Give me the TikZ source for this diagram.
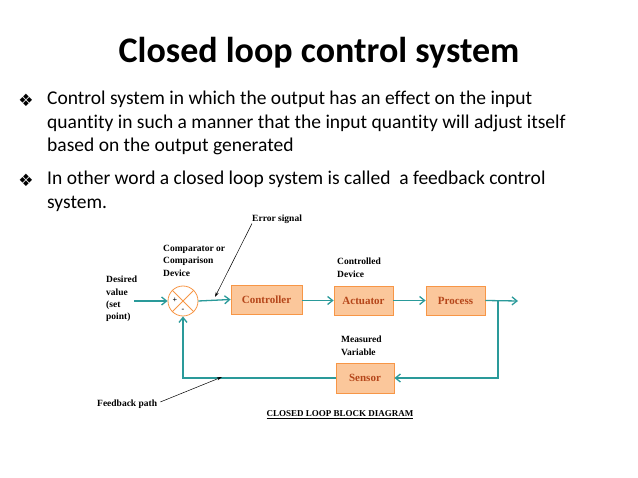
\documentclass[tikz,border=0pt]{standalone}
\usepackage{fontspec}
\setmainfont{Carlito}[Ligatures=NoCommon]
\newfontfamily\dv{DejaVu Sans}
\newfontfamily\tms{Liberation Serif}
\usetikzlibrary{arrows.meta}
\definecolor{teal1}{HTML}{2A9A9A}
\definecolor{borange}{HTML}{F79646}
\definecolor{forange}{HTML}{FBC79B}
\definecolor{torange}{HTML}{B5461A}
\begin{document}
\begin{tikzpicture}[x=1pt,y=-1pt,
 blk/.style={draw=borange,fill=forange,line width=0.8pt,inner sep=0pt,font=\tms\bfseries\fontsize{11}{11}\selectfont,text=torange},
 conn/.style={teal1,line width=1.3pt,-{Straight Barb[length=5pt,width=8pt]}},
 lbl/.style={font=\tms\bfseries\fontsize{9.5}{12.3}\selectfont,align=left,inner sep=0pt},
 ann/.style={black,line width=0.5pt,-{Stealth[length=5pt,width=3pt]}},
 bul/.style={anchor=north west,align=left,inner sep=0pt,font=\fontsize{19.5}{23.5}\selectfont}]
\useasboundingbox (0,0) rectangle (638,478);
\node[font=\bfseries\fontsize{36}{38}\selectfont] (title) at (319,53) {Closed loop control system};
\node[font=\dv\fontsize{17}{17}\selectfont] (bu1) at (26,100) {❖};
\node[font=\dv\fontsize{17}{17}\selectfont] (bu2) at (26,180) {❖};
\node[bul] (b1) at (47,91)
 {Control system in which the output has an effect on the input\\
 quantity in such a manner that the input quantity will adjust itself\\
 based on the output generated};
\node[bul] (b2) at (47,171)
 {In other word a closed loop system is called\ \ a feedback control\\
 system.};
% blocks
\node[draw=borange,line width=0.8pt,circle,minimum size=30pt,inner sep=0pt] (sum) at (183,301) {};
\draw[borange,line width=0.8pt] (sum.north west) -- (sum.south east) (sum.north east) -- (sum.south west);
\node[font=\tms\bfseries\fontsize{8}{8}\selectfont] (plus) at (175,300) {+};
\node[font=\tms\bfseries\fontsize{8}{8}\selectfont] (minus) at (183,310) {-};
\node[blk,minimum width=71pt,minimum height=29pt] (ctrl) at (266.5,299.5) {Controller};
\node[blk,minimum width=59pt,minimum height=29pt] (act) at (363.5,300.5) {Actuator};
\node[blk,minimum width=59pt,minimum height=29pt] (proc) at (455.5,300.5) {Process};
\node[blk,minimum width=58pt,minimum height=30pt] (sens) at (365,378) {Sensor};
\coordinate (in) at (134,301);
\coordinate (br) at (498,301);
\coordinate (out) at (518,301);
\coordinate (fbl) at (183,378);
\draw[conn] (in) -- (sum.west);
\draw[conn] (sum.east) -- (ctrl.west);
\draw[conn] (ctrl.east |- act.west) -- (act.west);
\draw[conn] (act.east) -- (proc.west);
\draw[conn] (proc.east) -- (out);
\draw[conn] (br) -- (br |- sens.east) -- (sens.east);
\draw[conn] (sens.west) -- (fbl) -- (sum.south);
% labels
\node[lbl,anchor=north west] (dv) at (106,276) {Desired\\value\\(set\\point)};
\node[lbl,anchor=north west] (cmp) at (163,245) {Comparator or\\Comparison\\Device};
\node[lbl,anchor=north west] (cd) at (337,258) {Controlled\\Device};
\node[lbl,anchor=north west] (mv) at (341,336) {Measured\\Variable};
\node[lbl,anchor=west] (es) at (252,219) {Error signal};
\node[lbl,anchor=west] (fp) at (97,404) {Feedback path};
\node[lbl,font=\tms\bfseries\fontsize{9}{10}\selectfont] (cap) at (340,415) {\underline{CLOSED LOOP BLOCK DIAGRAM}};
\coordinate (ea) at (215,297);
\coordinate (fa) at (222,377);
\draw[ann] (es.south west) -- (ea);
\draw[ann] (fp.east) ++(3,-2) -- (fa);
\end{tikzpicture}
\end{document}
